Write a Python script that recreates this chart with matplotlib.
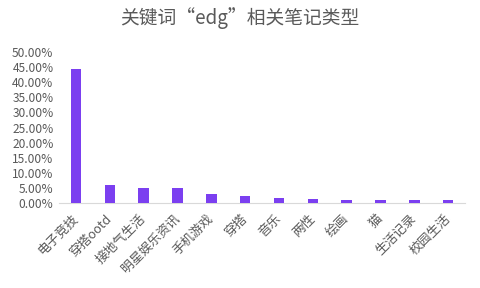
import matplotlib
matplotlib.use("Agg")
import matplotlib.pyplot as plt
import matplotlib.transforms as mtransforms
from matplotlib.ticker import FuncFormatter

plt.rcParams['font.family'] = ['Noto Sans CJK SC', 'DejaVu Sans']

# note types for keyword "edg"
categories = ['电子竞技', '穿搭ootd', '接地气生活', '明星娱乐资讯', '手机游戏', '穿搭',
              '音乐', '两性', '绘画', '猫', '生活记录', '校园生活']
shares = [0.444, 0.061, 0.051, 0.050, 0.031, 0.022,
          0.018, 0.013, 0.009, 0.009, 0.009, 0.009]
yticks = [i * 0.05 for i in range(11)]

fig = plt.figure(figsize=(4.8, 2.88), dpi=100)
ax = fig.add_axes([0.123, 0.295, 0.846, 0.524])

x = range(len(categories))
ax.bar(x, shares, width=0.31, color='#7B3FF0', zorder=3)

ax.set_xlim(-0.5, len(categories) - 0.5)
ax.set_ylim(0, 0.5)
ax.set_yticks(yticks)
ax.yaxis.set_major_formatter(FuncFormatter(lambda v, p: f'{v*100:.2f}%'))
ax.set_xticks(list(x))
ax.set_xticklabels(categories, rotation=45, ha='right', va='center',
                   rotation_mode='anchor', fontsize=9.2, fontweight='medium')
# nudge rotated labels a little to the right, as in the original
shift = mtransforms.ScaledTranslation(3 / 72, 0, fig.dpi_scale_trans)
for lbl in ax.get_xticklabels():
    lbl.set_transform(lbl.get_transform() + shift)

for s in ['top', 'right', 'left']:
    ax.spines[s].set_visible(False)
ax.spines['bottom'].set_color('#d9d9d9')
ax.tick_params(axis='both', length=0, colors='#595959')
ax.tick_params(axis='y', labelsize=8.6, pad=4)
ax.tick_params(axis='x', pad=10)

fig.suptitle('关键词“edg”相关笔记类型', y=0.975, fontsize=13.5, color='#595959',
             fontweight='medium')

fig.savefig('out.png', dpi=100)
plt.close()
